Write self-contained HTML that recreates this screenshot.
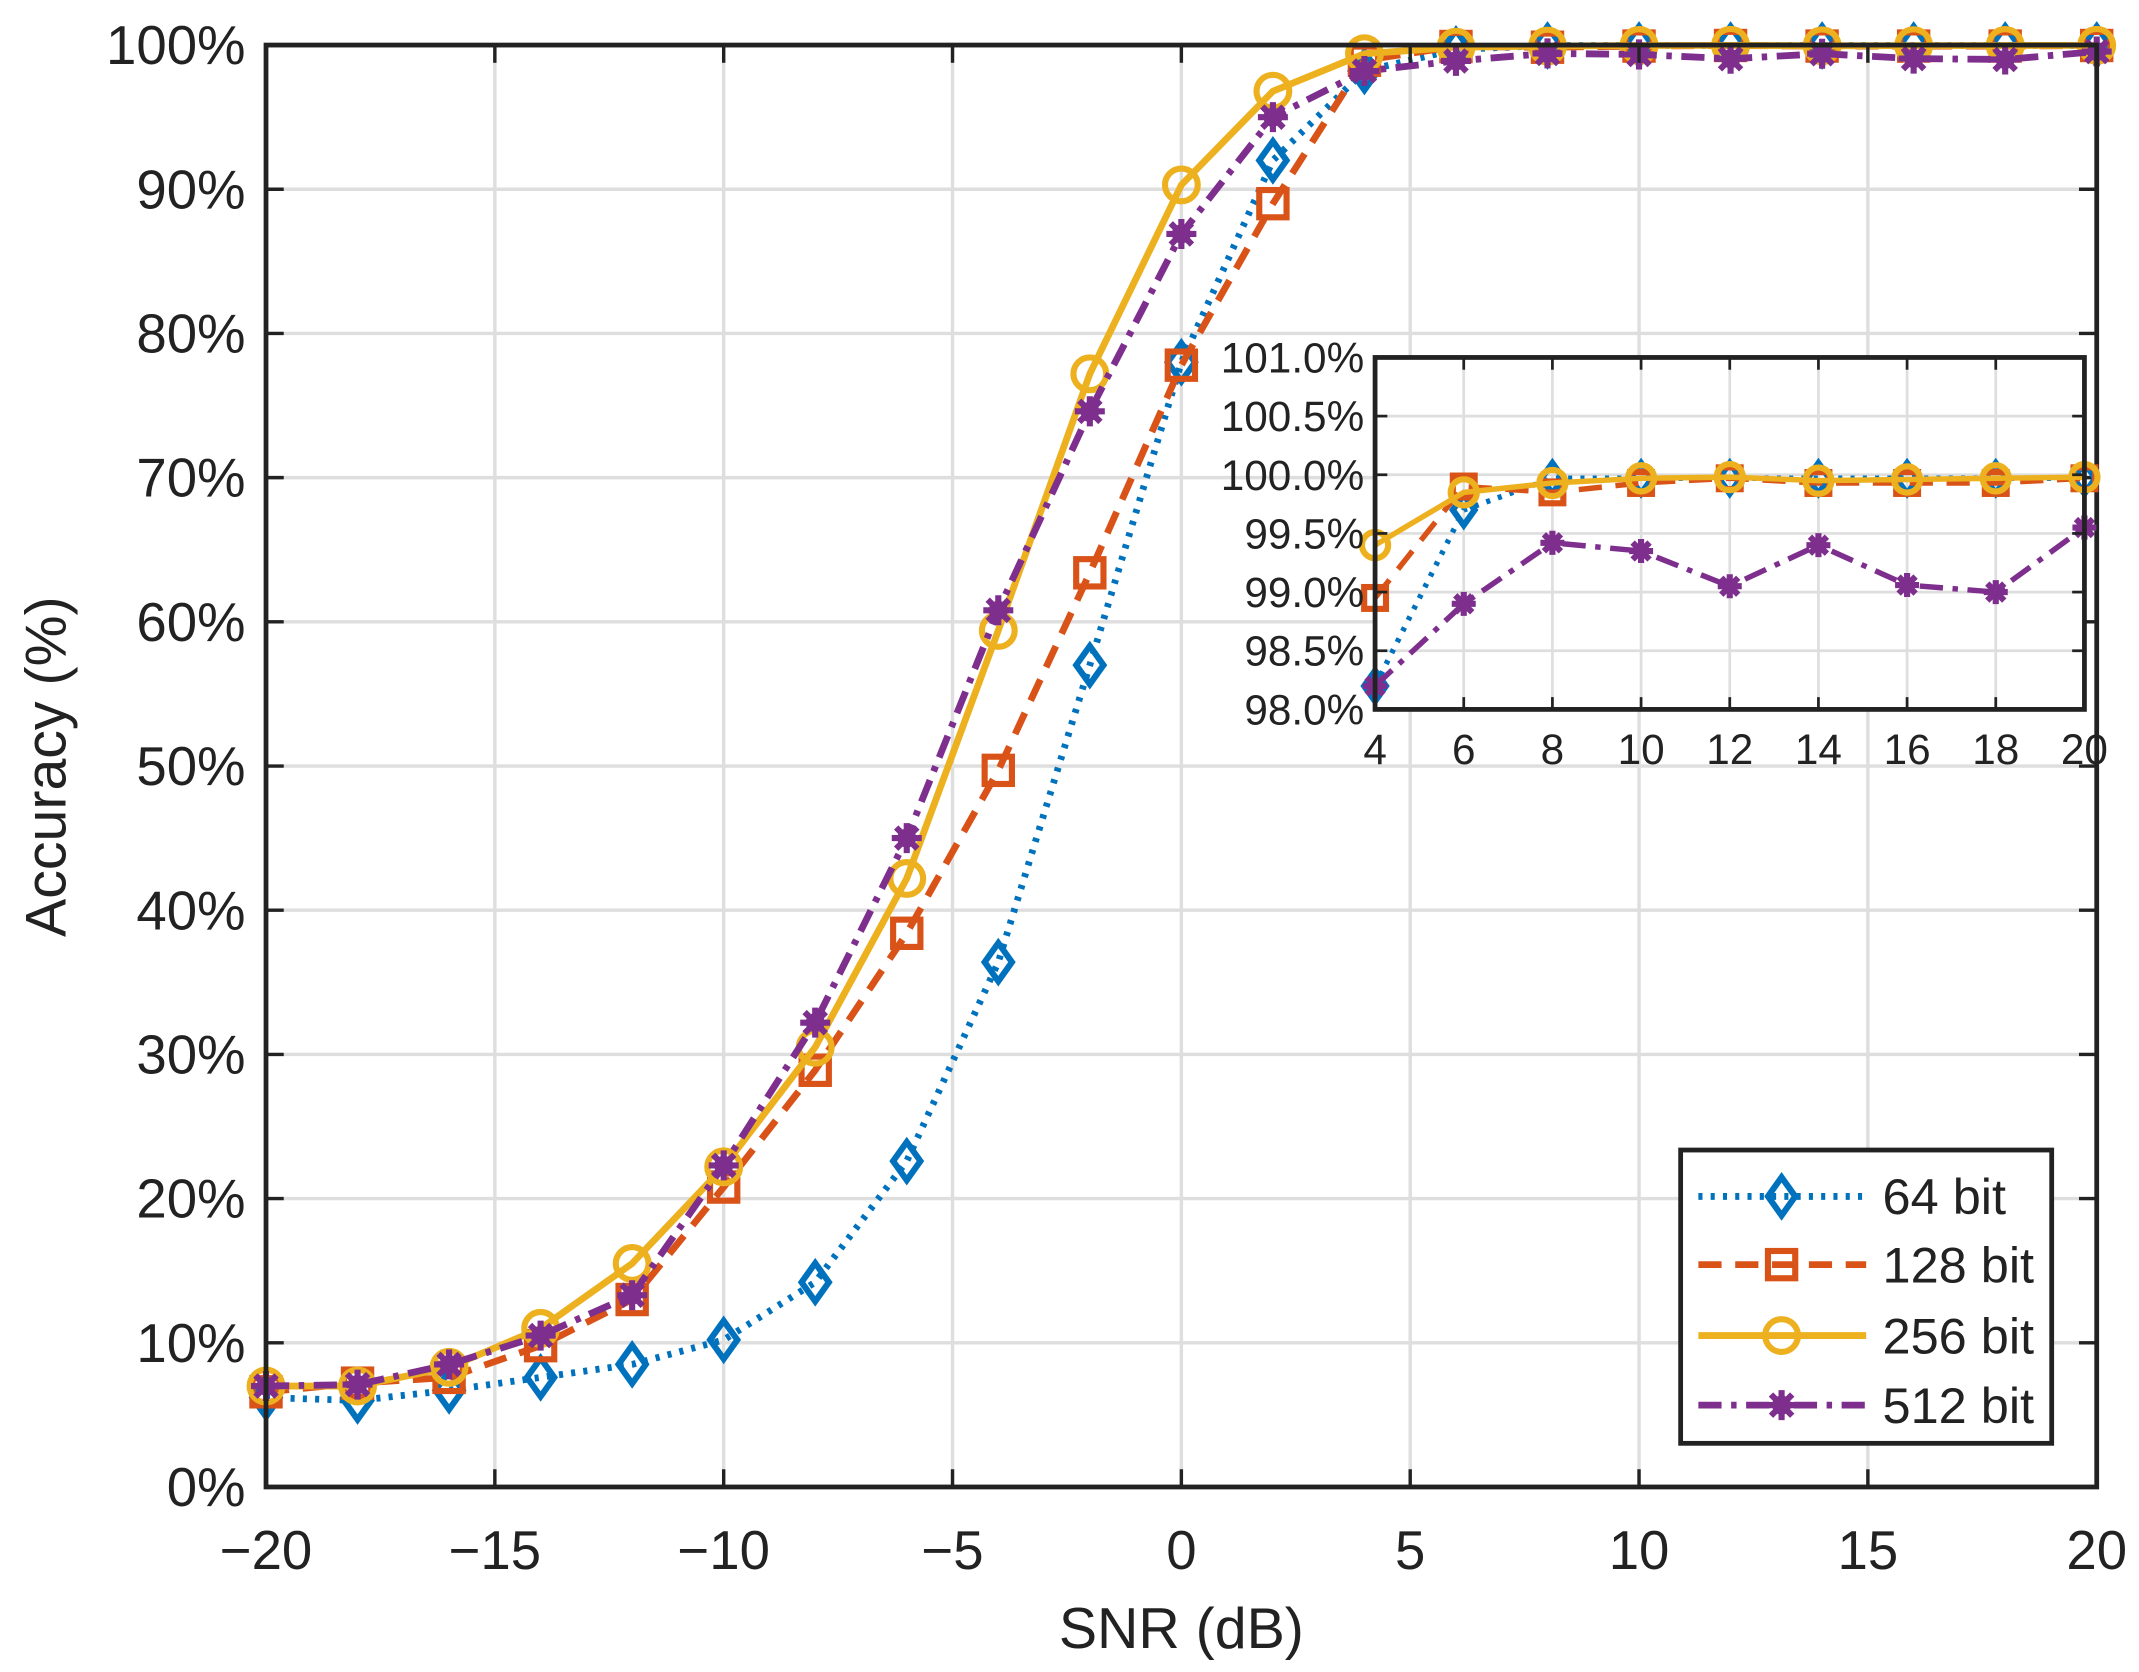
<!DOCTYPE html>
<html><head><meta charset="utf-8"><style>
html,body{margin:0;padding:0;background:#fff;}
svg{display:block;font-family:"Liberation Sans",Arial,sans-serif;}
</style></head><body>
<svg id="s" width="2139" height="1672" viewBox="0 0 1568 1225.6" xmlns="http://www.w3.org/2000/svg"></svg>
<script>
const S=document.getElementById('s');let h='';
const C={b:'#0072BD',o:'#D95319',y:'#EDB120',p:'#7E2F8E'};
const xs=[-20,-18,-16,-14,-12,-10,-8,-6,-4,-2,0,2,4,6,8,10,12,14,16,18,20];
const D={
b:[6.2,6.0,6.7,7.6,8.5,10.2,14.2,22.6,36.4,57.0,78.0,92.0,98.2,99.7,99.97,99.97,99.97,99.97,99.97,99.97,99.97],
o:[6.6,7.2,7.6,9.8,13.0,20.8,28.9,38.4,49.7,63.4,77.8,89.0,98.95,99.9,99.85,99.93,99.97,99.93,99.93,99.93,99.97],
y:[7.0,7.0,8.3,11.0,15.5,22.2,30.5,42.2,59.4,77.2,90.3,96.8,99.4,99.85,99.93,99.97,99.98,99.95,99.96,99.97,99.98],
p:[7.0,7.1,8.5,10.5,13.3,22.3,32.2,45.0,60.8,74.6,86.9,95.0,98.2,98.9,99.42,99.35,99.05,99.4,99.06,99.0,99.55]};
const dash={b:'3,6',o:'17,10',y:'',p:'17,7,4,7'};
function mk(k,x,y,s){s=s||1;const c=C[k];
 if(k=='b')return `<path d="M${x},${y-14*s}L${x+10*s},${y}L${x},${y+14*s}L${x-10*s},${y}Z" fill="none" stroke="${c}" stroke-width="4.5"/>`;
 if(k=='o')return `<rect x="${x-10*s}" y="${y-10*s}" width="${20*s}" height="${20*s}" fill="none" stroke="${c}" stroke-width="4.5"/>`;
 if(k=='y')return `<circle cx="${x}" cy="${y}" r="${12*s}" fill="none" stroke="${c}" stroke-width="4.5"/>`;
 let r=11*s,p='';for(let a=0;a<4;a++){const t=a*Math.PI/4;p+=`M${x-r*Math.cos(t)},${y-r*Math.sin(t)}L${x+r*Math.cos(t)},${y+r*Math.sin(t)}`;}
 return `<path d="${p}" stroke="${c}" stroke-width="4.5"/><circle cx="${x}" cy="${y}" r="${7*s}" fill="${c}"/>`;}
const L=195,R=1537,T=33,B=1090;
const X=v=>L+(v+20)/40*(R-L),Y=v=>B-v/100*(B-T);
for(let v=-20;v<=20;v+=5){const x=X(v);h+=`<line x1="${x}" y1="${T}" x2="${x}" y2="${B}" stroke="#dedede" stroke-width="2.5"/>`;}
for(let v=0;v<=100;v+=10){const y=Y(v);h+=`<line x1="${L}" y1="${y}" x2="${R}" y2="${y}" stroke="#dedede" stroke-width="2.5"/>`;}
for(const k of ['b','o','y','p']){let pts=xs.map((v,i)=>X(v)+','+Y(D[k][i])).join(' ');
 h+=`<polyline points="${pts}" fill="none" stroke="${C[k]}" stroke-width="5" stroke-dasharray="${dash[k]}"/>`;
 xs.forEach((v,i)=>h+=mk(k,X(v),Y(D[k][i])));}
h+=`<rect x="${L}" y="${T}" width="${R-L}" height="${B-T}" fill="none" stroke="#222" stroke-width="3.5"/>`;
for(let v=-20;v<=20;v+=5){const x=X(v);h+=`<line x1="${x}" y1="${B}" x2="${x}" y2="${B-13}" stroke="#222" stroke-width="2.5"/><line x1="${x}" y1="${T}" x2="${x}" y2="${T+13}" stroke="#222" stroke-width="2.5"/>`;
 h+=`<text x="${x}" y="1150" font-size="40" text-anchor="middle" fill="#222">${v<0?'\u2212'+(-v):v}</text>`;}
for(let v=0;v<=100;v+=10){const y=Y(v);h+=`<line x1="${L}" y1="${y}" x2="${L+13}" y2="${y}" stroke="#222" stroke-width="2.5"/><line x1="${R}" y1="${y}" x2="${R-13}" y2="${y}" stroke="#222" stroke-width="2.5"/>`;
 h+=`<text x="180" y="${y+14}" font-size="40" text-anchor="end" fill="#222">${v}%</text>`;}
h+=`<text x="866" y="1208" font-size="42" text-anchor="middle" fill="#222">SNR (dB)</text>`;
h+=`<text transform="translate(48,562) rotate(-90)" font-size="42" text-anchor="middle" fill="#222">Accuracy (%)</text>`;
const l=1008,r=1528,t=262,b=520;
const x2=v=>l+(v-4)/16*(r-l),y2=v=>b-(v-98)/3*(b-t);
h+=`<rect x="${l}" y="${t}" width="${r-l}" height="${b-t}" fill="#fff"/>`;
for(let v=4;v<=20;v+=2){const x=x2(v);h+=`<line x1="${x}" y1="${t}" x2="${x}" y2="${b}" stroke="#dedede" stroke-width="2"/>`;}
for(let v=98;v<=101.01;v+=0.5){const y=y2(v);h+=`<line x1="${l}" y1="${y}" x2="${r}" y2="${y}" stroke="#dedede" stroke-width="2"/>`;}
h+=`<defs><clipPath id="c"><rect x="${l-20}" y="${t}" width="${r-l+40}" height="${b-t+20}"/></clipPath></defs><g clip-path="url(#c)">`;
for(const k of ['b','o','y','p']){let pts='';xs.forEach((v,i)=>{if(v>=4)pts+=x2(v)+','+y2(D[k][i])+' ';});
 h+=`<polyline points="${pts}" fill="none" stroke="${C[k]}" stroke-width="4" stroke-dasharray="${dash[k]}"/>`;
 xs.forEach((v,i)=>{if(v>=4)h+=mk(k,x2(v),y2(D[k][i]),0.8);});}
h+='</g>';
h+=`<rect x="${l}" y="${t}" width="${r-l}" height="${b-t}" fill="none" stroke="#222" stroke-width="3.5"/>`;
for(let v=4;v<=20;v+=2){const x=x2(v);h+=`<line x1="${x}" y1="${b}" x2="${x}" y2="${b-9}" stroke="#222" stroke-width="2"/><line x1="${x}" y1="${t}" x2="${x}" y2="${t+9}" stroke="#222" stroke-width="2"/>`;
 h+=`<text x="${x}" y="560" font-size="31" text-anchor="middle" fill="#222">${v}</text>`;}
[98,98.5,99,99.5,100,100.5,101].forEach(v=>{const y=y2(v);h+=`<line x1="${l}" y1="${y}" x2="${l+9}" y2="${y}" stroke="#222" stroke-width="2"/><line x1="${r}" y1="${y}" x2="${r-9}" y2="${y}" stroke="#222" stroke-width="2"/>`;
 h+=`<text x="1000" y="${y+11}" font-size="31" text-anchor="end" fill="#222">${v.toFixed(1)}%</text>`;});
h+=`<rect x="1232" y="843" width="272" height="215" fill="#fff" stroke="#222" stroke-width="3.5"/>`;
[['b','64 bit',877],['o','128 bit',927],['y','256 bit',979],['p','512 bit',1030]].forEach(([k,s,y])=>{
 h+=`<line x1="1245" y1="${y}" x2="1368" y2="${y}" stroke="${C[k]}" stroke-width="5" stroke-dasharray="${dash[k]}"/>`+mk(k,1306,y);
 h+=`<text x="1380" y="${y+13}" font-size="37" fill="#222">${s}</text>`;});
S.innerHTML=h;
</script>
</body></html>
